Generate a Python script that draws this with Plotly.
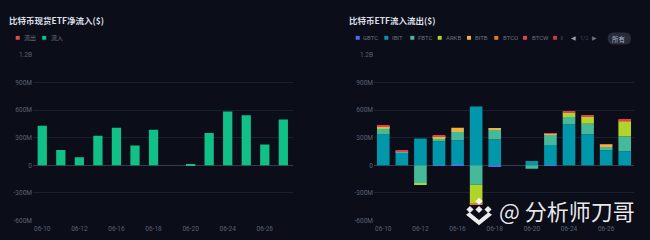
import plotly.graph_objects as go

# ---------------- data (values in millions of USD) ----------------
dates = ['06-10', '06-11', '06-12', '06-13', '06-16', '06-17', '06-18',
         '06-19', '06-20', '06-23', '06-24', '06-25', '06-26', '06-27']
tick_dates = dates[::2]

net_flow = [429, 167, 87, 321, 408, 216, 387, 0, 10, 352, 586, 544, 227, 499]

etf_names = ['GBTC', 'IBIT', 'FBTC', 'ARKB', 'BITB', 'BTCO', 'BTCW']
GBTC = [0, 0, 0, 4, 12, 0, -15, 0, 0, 4, 0, 0, 0, 0]
IBIT = [336, 140, 293, 258, 262, 639, 280, 0, 48, 216, 445, 338, 164, 153]
FBTC = [64, 13, -195, 25, 88, -210, 108, 0, -38, 112, 80, 115, 35, 164]
ARKB = [15, 0, -10, 20, 0, -203, 0, 0, 0, 0, 49, 80, 0, 160]
BITB = [10, 0, 0, 8, 46, -5, 14, 0, 0, 17, 0, 0, 24, 0]
BTCO = [0, 0, 0, 0, 0, -5, 0, 0, 0, 0, 0, 0, 4, 8]
BTCW = [4, 14, 0, 6, 0, 0, 0, 0, 0, 3, 12, 11, 0, 14]
etf_values = [GBTC, IBIT, FBTC, ARKB, BITB, BTCO, BTCW]

y_tickvals = [-600, -300, 0, 300, 600, 900, 1200]
y_ticktext = ['-600M', '-300M', '0', '300M', '600M', '900M', '1.2B']

# ---------------- styles ----------------
W, H = 650, 240
BG = '#0b0e19'
GRID = '#1b2030'
ZERO = '#363c4c'
TICK = '#5c6272'
TITLE = '#dcdfe6'
GREEN = '#10c086'
RED = '#e8474f'
etf_colors = ['#4d6ef0', '#0097aa', '#47b99b', '#b0d42a', '#f0b43c', '#e57a2c', '#e5404f']
M = 1e6


def X(p):
    return p / W


def Y(p):
    return 1 - p / H


fig = go.Figure()

outflow = [v * M if v < 0 else None for v in net_flow]
inflow = [v * M if v >= 0 else None for v in net_flow]
fig.add_bar(x=dates, y=outflow, name='流出', marker_color=RED, width=0.5,
            xaxis='x', yaxis='y', marker_line_width=0)
fig.add_bar(x=dates, y=inflow, name='流入', marker_color=GREEN, width=0.5,
            xaxis='x', yaxis='y', marker_line_width=0)

for name, vals, col in zip(etf_names, etf_values, etf_colors):
    fig.add_bar(x=dates, y=[v * M for v in vals], name=name, marker_color=col,
                width=0.68, xaxis='x2', yaxis='y2', marker_line_width=0)

axis_font = dict(family='Roboto, Noto Sans, sans-serif', size=6.5, color=TICK)
ydom = [Y(224), Y(52.7)]
common_y = dict(range=[-600 * M, 1200 * M], tickvals=[v * M for v in y_tickvals],
                ticktext=y_ticktext, tickfont=axis_font, showgrid=True,
                gridcolor=GRID, gridwidth=1, zeroline=True, zerolinecolor=ZERO,
                zerolinewidth=1, showline=False, ticks='', domain=ydom,
                fixedrange=True)
common_x = dict(type='category', tickvals=tick_dates, tickfont=axis_font,
                showgrid=False, showline=False, ticks='', zeroline=False,
                range=[-0.5, 13.5], fixedrange=True, ticklabelstandoff=3)

fig.update_layout(
    width=W, height=H, margin=dict(l=0, r=0, t=0, b=0),
    paper_bgcolor=BG, plot_bgcolor=BG, barmode='relative', showlegend=False,
    xaxis=dict(common_x, domain=[X(33), X(292.6)], anchor='y'),
    yaxis=dict(common_y, anchor='x'),
    xaxis2=dict(common_x, domain=[X(374), X(634)], anchor='y2'),
    yaxis2=dict(common_y, anchor='x2'),
)

annotations = []
shapes = []

cjk = 'Noto Sans CJK SC, sans-serif'
# titles
annotations.append(dict(x=X(6.5), y=Y(16.5), xref='paper', yref='paper', xanchor='left',
                        yanchor='middle', showarrow=False, text='<b>比特币现货ETF净流入($)</b>',
                        font=dict(family=cjk, size=8.5, color=TITLE)))
annotations.append(dict(x=X(346.5), y=Y(16.5), xref='paper', yref='paper', xanchor='left',
                        yanchor='middle', showarrow=False, text='<b>比特币ETF流入流出($)</b>',
                        font=dict(family=cjk, size=8.5, color=TITLE)))

leg_font = dict(family='Roboto, Noto Sans CJK SC, sans-serif', size=6, color='#6a7080')
LY = 35


def legend_item(sq_x, txt_x, color, label):
    shapes.append(dict(type='rect', xref='paper', yref='paper',
                       x0=X(sq_x), x1=X(sq_x + 4), y0=Y(LY + 2), y1=Y(LY - 2),
                       fillcolor=color, line=dict(width=0)))
    annotations.append(dict(x=X(txt_x), y=Y(LY), xref='paper', yref='paper',
                            xanchor='left', yanchor='middle', showarrow=False,
                            text=label, font=leg_font))


legend_item(15.7, 21.5, RED, '流出')
legend_item(42.2, 48.5, GREEN, '流入')

right_sq = [355.7, 384.3, 410.3, 437.7, 467.0, 494.3, 523.0]
right_tx = [361.5, 390.0, 416.0, 443.5, 473.0, 500.5, 529.5]
for sx, tx, col, nm in zip(right_sq, right_tx, etf_colors, etf_names):
    legend_item(sx, tx, col, nm)
legend_item(553.0, 559.0, '#c0394a', 'I')

# pager
annotations.append(dict(x=X(573.5), y=Y(LY), xref='paper', yref='paper', xanchor='center',
                        yanchor='middle', showarrow=False, text='◀',
                        font=dict(family='DejaVu Sans', size=6, color='#9aa0ae')))
annotations.append(dict(x=X(584), y=Y(LY), xref='paper', yref='paper', xanchor='center',
                        yanchor='middle', showarrow=False, text='1/2',
                        font=dict(family='Roboto', size=5.5, color='#3e4454')))
annotations.append(dict(x=X(594.5), y=Y(LY), xref='paper', yref='paper', xanchor='center',
                        yanchor='middle', showarrow=False, text='▶',
                        font=dict(family='DejaVu Sans', size=6, color='#6a7080')))
# "所有" button
bx0, bx1, by0, by1 = 607.7, 631.0, 29.5, 42.0
r = 6.0
path = (f"M {X(bx0 + r)},{Y(by0)} L {X(bx1 - r)},{Y(by0)} "
        f"Q {X(bx1)},{Y(by0)} {X(bx1)},{Y((by0 + by1) / 2)} "
        f"Q {X(bx1)},{Y(by1)} {X(bx1 - r)},{Y(by1)} L {X(bx0 + r)},{Y(by1)} "
        f"Q {X(bx0)},{Y(by1)} {X(bx0)},{Y((by0 + by1) / 2)} "
        f"Q {X(bx0)},{Y(by0)} {X(bx0 + r)},{Y(by0)} Z")
shapes.append(dict(type='path', xref='paper', yref='paper', path=path,
                   fillcolor='#272c3a', line=dict(width=0)))
annotations.append(dict(x=X((bx0 + bx1) / 2), y=Y((by0 + by1) / 2), xref='paper', yref='paper',
                        xanchor='center', yanchor='middle', showarrow=False, text='所有',
                        font=dict(family=cjk, size=6.5, color='#b4b9c6')))

# watermark logo
WM = 'rgba(255,255,255,0.92)'


def diamond(cx, cy, h):
    return (f"M {X(cx)},{Y(cy - h)} L {X(cx + h)},{Y(cy)} L {X(cx)},{Y(cy + h)} "
            f"L {X(cx - h)},{Y(cy)} Z")


for (cx, cy) in [(479, 204), (470, 212.5), (488, 212.5), (479, 212.5)]:
    shapes.append(dict(type='path', xref='paper', yref='paper', path=diamond(cx, cy, 3.6),
                       fillcolor=WM, line=dict(width=0)))
chev = (f"M {X(466)},{Y(218)} L {X(479)},{Y(229)} L {X(492)},{Y(218)} "
        f"L {X(488.5)},{Y(215.5)} L {X(479)},{Y(223.5)} L {X(469.5)},{Y(215.5)} Z")
shapes.append(dict(type='path', xref='paper', yref='paper', path=chev,
                   fillcolor=WM, line=dict(width=0)))
annotations.append(dict(x=X(497), y=Y(213), xref='paper', yref='paper', xanchor='left',
                        yanchor='middle', showarrow=False, text='@ 分析师刀哥',
                        font=dict(family=cjk, size=22, color=WM)))

fig.update_layout(annotations=annotations, shapes=shapes)

fig.write_html('out.html')
